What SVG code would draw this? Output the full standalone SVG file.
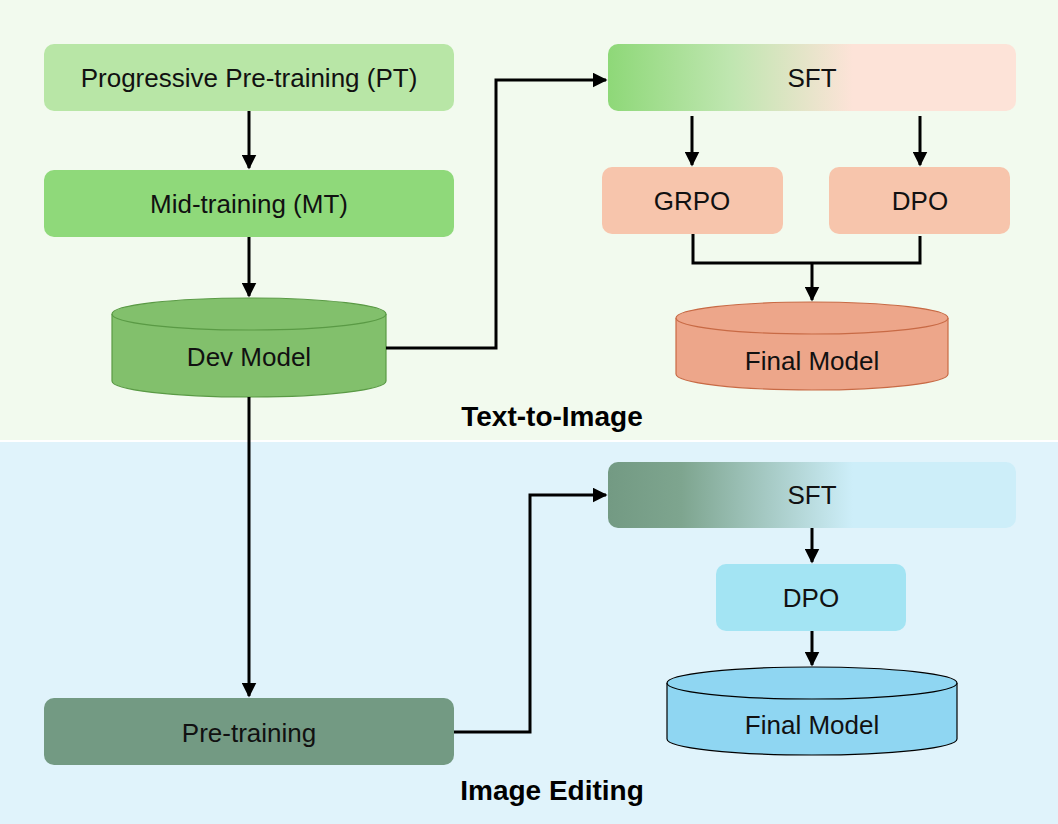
<svg xmlns="http://www.w3.org/2000/svg" width="1058" height="824" viewBox="0 0 1058 824">
<defs>
<linearGradient id="g1" x1="0" x2="1" y1="0" y2="0"><stop offset="0" stop-color="#8ed878"/><stop offset="0.3" stop-color="#bfe6b0"/><stop offset="0.6" stop-color="#fde3d8"/><stop offset="1" stop-color="#fde3d8"/></linearGradient>
<linearGradient id="g2" x1="0" x2="1" y1="0" y2="0"><stop offset="0" stop-color="#739a83"/><stop offset="0.18" stop-color="#7ea58f"/><stop offset="0.6" stop-color="#cdeef9"/><stop offset="1" stop-color="#cdeef9"/></linearGradient>
<marker id="ar" viewBox="0 0 10 10" refX="9" refY="5" markerWidth="5" markerHeight="5" orient="auto"><path d="M0,0 L10,5 L0,10 z" fill="#000"/></marker>
<style>
text{font-family:"Liberation Sans",Arial,sans-serif;font-size:26px;text-anchor:middle;fill:#111}
.t{font-weight:bold;font-size:28px;fill:#000}
.c{fill:none;stroke:#000;stroke-width:3}
</style>
</defs>
<rect x="0" y="0" width="1058" height="440" fill="#f2faee"/>
<rect x="0" y="442" width="1058" height="382" fill="#e0f3fb"/>
<text class="t" x="552" y="426">Text-to-Image</text>
<text class="t" x="552" y="800">Image Editing</text>
<g id="pt"><rect x="44" y="44" width="410" height="67" rx="10" fill="#b8e6a6"/><text x="249" y="87">Progressive Pre-training (PT)</text></g>
<g id="mt"><rect x="44" y="170" width="410" height="67" rx="10" fill="#8fd97a"/><text x="249" y="213">Mid-training (MT)</text></g>
<g id="dev"><path d="M112,314 L112,381 A137,16 0 0 0 386,381 L386,314" fill="#82c06c" stroke="#5a9a45" stroke-width="1.2"/><ellipse cx="249" cy="314" rx="137" ry="16" fill="#82c06c" stroke="#5a9a45" stroke-width="1.2"/><text x="249" y="366">Dev Model</text></g>
<g id="sft1"><rect x="608" y="44" width="408" height="67" rx="10" fill="url(#g1)"/><text x="812" y="87">SFT</text></g>
<g id="grpo"><rect x="602" y="167" width="181" height="67" rx="10" fill="#f7c5ac"/><text x="692" y="210">GRPO</text></g>
<g id="dpo1"><rect x="829" y="167" width="181" height="67" rx="10" fill="#f7c5ac"/><text x="920" y="210">DPO</text></g>
<g id="final1"><path d="M676,318 L676,374 A136,16 0 0 0 948,374 L948,318" fill="#eda68a" stroke="#c86a45" stroke-width="1.2"/><ellipse cx="812" cy="318" rx="136" ry="16" fill="#eda68a" stroke="#c86a45" stroke-width="1.2"/><text x="812" y="370">Final Model</text></g>
<g id="sft2"><rect x="608" y="462" width="408" height="66" rx="10" fill="url(#g2)"/><text x="812" y="504">SFT</text></g>
<g id="dpo2"><rect x="716" y="564" width="190" height="67" rx="10" fill="#a3e4f3"/><text x="811" y="607">DPO</text></g>
<g id="final2"><path d="M667,683 L667,739 A145,16 0 0 0 957,739 L957,683" fill="#8fd6f2" stroke="#000" stroke-width="1.2"/><ellipse cx="812" cy="683" rx="145" ry="16" fill="#8fd6f2" stroke="#000" stroke-width="1.2"/><text x="812" y="734">Final Model</text></g>
<g id="pre"><rect x="44" y="698" width="410" height="67" rx="10" fill="#739a83"/><text x="249" y="742">Pre-training</text></g>
<g id="connectors">
<path class="c" d="M249,111 V168" marker-end="url(#ar)"/>
<path class="c" d="M249,237 V296" marker-end="url(#ar)"/>
<path class="c" d="M386,348 H496 V80 H606" marker-end="url(#ar)"/>
<path class="c" d="M249,397 V696" marker-end="url(#ar)"/>
<path class="c" d="M454,732 H530 V495 H606" marker-end="url(#ar)"/>
<path class="c" d="M692,116 V165" marker-end="url(#ar)"/>
<path class="c" d="M920,116 V165" marker-end="url(#ar)"/>
<path class="c" d="M693,234 V263 H920 V236"/>
<path class="c" d="M812,263 V300" marker-end="url(#ar)"/>
<path class="c" d="M812,528 V562" marker-end="url(#ar)"/>
<path class="c" d="M812,631 V665" marker-end="url(#ar)"/>
</g>
</svg>
